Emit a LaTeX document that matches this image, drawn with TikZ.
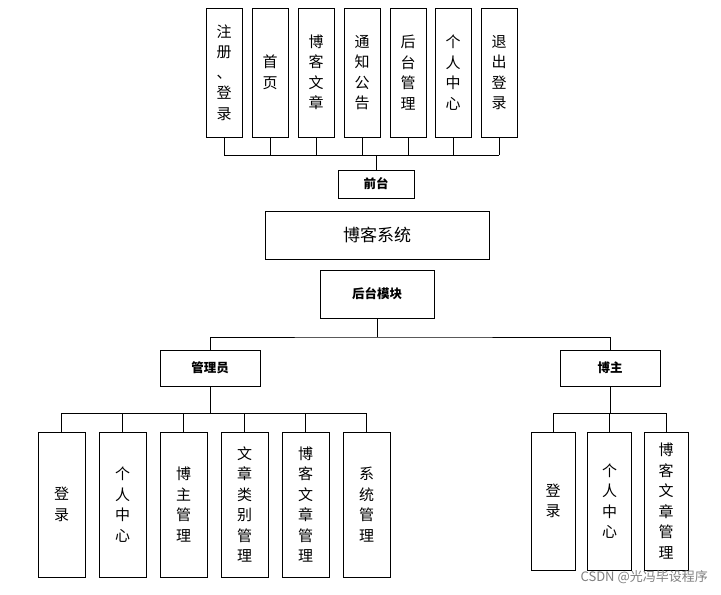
\documentclass[tikz,border=0pt]{standalone}
\usepackage{fontspec}
\newfontfamily\cjk{Noto Sans CJK SC}
\begin{document}
\begin{tikzpicture}[x=1pt,y=-1pt,
 bx/.style={draw=black,line width=0.8pt,inner sep=0pt,align=center,font=\cjk\fontsize{15}{20.5}\selectfont},
 sm/.style={font=\cjk\bfseries\fontsize{12.5}{14}\selectfont},
 ln/.style={line width=0.8pt}]
\useasboundingbox (0,0) rectangle (721,595);
% top row
\foreach \n/\x/\t in {t1/224/注\\册\\、\\登\\录, t2/270/首\\页, t3/316/博\\客\\文\\章, t4/362/通\\知\\公\\告, t5/408/后\\台\\管\\理, t6/453/个\\人\\中\\心, t7/499/退\\出\\登\\录}
  \node[bx,minimum width=36pt,minimum height=129pt] (\n) at (\x,72.5) {\t};
\node[bx,sm,minimum width=76pt,minimum height=28pt] (fq) at (376,184) {前台};
\node[bx,minimum width=224pt,minimum height=48pt,font=\cjk\fontsize{17}{19}\selectfont] (sys) at (377,235) {博客系统};
\node[bx,sm,minimum width=114pt,minimum height=48pt] (hq) at (377,294) {后台模块};
\coordinate (bus) at (376,155);
\foreach \n in {t1,t2,t3,t4,t5,t6,t7} \draw[ln] (\n.south) -- (\n.south |- bus);
\draw[ln] (t1.south |- bus) -- (t7.south |- bus);
\draw[ln] (bus) -- (fq.north);
% second level
\node[bx,sm,minimum width=100pt,minimum height=36pt] (adm) at (210,368) {管理员};
\node[bx,sm,minimum width=100pt,minimum height=36pt] (bz) at (610,368) {博主};
\coordinate (b2) at (377,337);
\draw[ln] (hq.south) -- (b2);
\draw[ln] (adm.north) |- (b2) -| (bz.north);
% admin children
\foreach \n/\x/\t in {a1/61.5/登\\录, a2/122.5/个\\人\\中\\心, a3/183.5/博\\主\\管\\理, a4/244.5/文\\章\\类\\别\\管\\理, a5/305.5/博\\客\\文\\章\\管\\理, a6/366.5/系\\统\\管\\理}
  \node[bx,minimum width=47pt,minimum height=145pt] (\n) at (\x,504.5) {\t};
\coordinate (b3) at (210,413);
\draw[ln] (adm.south) -- (b3);
\foreach \n in {a1,a2,a3,a4,a5,a6} \draw[ln] (\n.north) -- (\n.north |- b3);
\draw[ln] (a1.north |- b3) -- (a6.north |- b3);
% blogger children
\foreach \n/\x/\t in {c1/553/登\\录, c2/609.5/个\\人\\中\\心, c3/666/博\\客\\文\\章\\管\\理}
  \node[bx,minimum width=44pt,minimum height=138pt] (\n) at (\x,501) {\t};
\coordinate (b4) at (610,413);
\draw[ln] (bz.south) -- (b4);
\foreach \n in {c1,c2,c3} \draw[ln] (\n.north) -- (\n.north |- b4);
\draw[ln] (c1.north |- b4) -- (c3.north |- b4);
\node[anchor=east,text=gray,font=\cjk\fontsize{13}{15}\selectfont,inner sep=0pt] (wm) at (708,577) {CSDN @光冯毕设程序};
\end{tikzpicture}
\end{document}
